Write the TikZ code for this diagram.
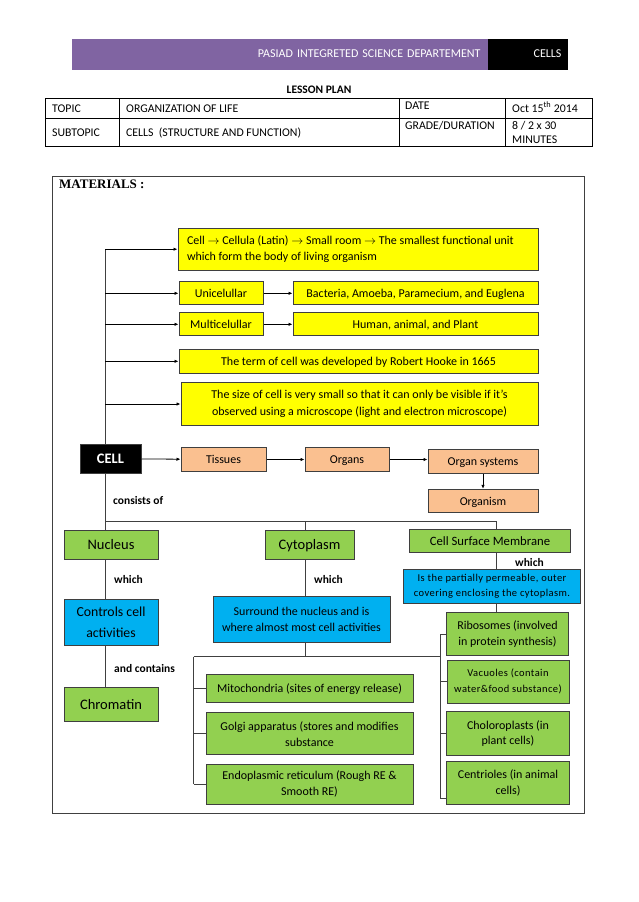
\documentclass[tikz,border=0pt]{standalone}
\usepackage{fontspec}
\setmainfont{Carlito}
\newfontfamily\matfont{Liberation Serif}
\newfontfamily\loosefont[LetterSpace=4]{Carlito}
\usetikzlibrary{arrows.meta}

\definecolor{deptpurple}{HTML}{8064A2}
\definecolor{cellyellow}{HTML}{FFFF00}
\definecolor{cellpeach}{HTML}{FAC090}
\definecolor{cellgreen}{HTML}{92D050}
\definecolor{cellblue}{HTML}{00B0F0}
\definecolor{boxline}{HTML}{3F3F3F}

\begin{document}
\begin{tikzpicture}[x=1pt, y=-1pt,
  box/.style={draw=boxline, line width=1pt, inner sep=0pt, align=center, font=\fontsize{12}{15.7}\selectfont},
  line1/.style={text height=9pt, text depth=1pt},
  line1big/.style={text height=11pt, text depth=1pt},
  ybox/.style={box, fill=cellyellow},
  pbox/.style={box, fill=cellpeach},
  gbox/.style={box, fill=cellgreen},
  bbox/.style={box, fill=cellblue},
  bigtext/.style={font=\fontsize{14.5}{21.7}\selectfont},
  loosetext/.style={font=\loosefont\fontsize{10.5}{15.7}\selectfont},
  link/.style={line width=0.8pt, -{Latex[length=4pt,width=3.5pt]}},
  wire/.style={line width=0.8pt, draw=black!75},
  word/.style={anchor=west, inner sep=0pt, font=\fontsize{11.5}{14}\selectfont\bfseries},
  celltext/.style={anchor=base west, inner sep=0pt, font=\fontsize{11.8}{13}\selectfont}]

  \useasboundingbox (0,0) rectangle (638,902);
  \fill[white] (0,0) rectangle (638,902);

  % header
  \node[fill=deptpurple, minimum width=416pt, minimum height=31pt, text width=402pt, inner xsep=7pt,
    align=right, text=white, font=\fontsize{12}{14}\selectfont] (dept) at (279.5,54) {PASIAD INTEGRETED SCIENCE DEPARTEMENT};
  \node[fill=black, minimum width=80pt, minimum height=31pt, text width=68pt, inner xsep=6pt,
    align=right, text=white, font=\fontsize{12}{14}\selectfont] (unit) at (527.5,54) {CELLS};

  \node[font=\fontsize{11.5}{13}\selectfont\bfseries] (plan) at (319,90) {LESSON PLAN};
  \draw[line width=0.8pt] (45,98.5) rectangle (592.7,146.7);
  \draw[line width=0.8pt] (45,118.3) -- (592.7,118.3);
  \draw[line width=0.8pt] (119.3,98.5) -- (119.3,146.7) (399,98.5) -- (399,146.7) (505.7,98.5) -- (505.7,146.7);
  \node[celltext] (topic) at (52,112.3) {TOPIC};
  \node[celltext] (topicv) at (126,112.3) {ORGANIZATION OF LIFE};
  \node[celltext] (date) at (405,109.5) {DATE};
  \node[celltext] (datev) at (512,112.3) {Oct 15\textsuperscript{th} 2014};
  \node[celltext] (sub) at (52,136) {SUBTOPIC};
  \node[celltext] (subv) at (126,136) {CELLS\ \ (STRUCTURE AND FUNCTION)};
  \node[celltext] (grade) at (405,129) {GRADE/DURATION};
  \node[celltext] (gradev) at (512,129) {8 / 2 x 30};
  \node[celltext] (gradem) at (512,143.3) {MINUTES};

  % materials frame
  \draw[line width=0.9pt, draw=black!75] (52.3,176) rectangle (584.5,813.5);
  \node[anchor=base west, inner sep=0pt, font=\matfont\bfseries\fontsize{13}{14}\selectfont] (mat) at (59,188) {MATERIALS :};

  \node[ybox, minimum width=360pt, minimum height=41.7pt, text width=342pt, align=flush left, font=\fontsize{12}{16.6}\selectfont] (def) at (358,249.2)
    {Cell $\rightarrow$ Cellula (Latin) $\rightarrow$ Small room $\rightarrow$ The smallest functional unit\\which form the body of living organism};
  \node[ybox, line1, minimum width=84pt, minimum height=23.3pt] (uni) at (221,293.3) {Unicelullar};
  \node[ybox, line1, minimum width=245pt, minimum height=23.3pt] (bact) at (415.5,293.3) {Bacteria, Amoeba, Paramecium, and Euglena};
  \node[ybox, line1, minimum width=84pt, minimum height=23.3pt] (multi) at (221,324.3) {Multicelullar};
  \node[ybox, line1, minimum width=245pt, minimum height=23.3pt] (human) at (415.5,324.3) {Human, animal, and Plant};
  \node[ybox, line1, minimum width=359pt, minimum height=24pt] (hooke) at (358.5,361.3) {The term of cell was developed by Robert Hooke in 1665};
  \node[ybox, minimum width=357pt, minimum height=43.4pt, font=\fontsize{12}{16.6}\selectfont] (size) at (359.5,404)
    {The size of cell is very small so that it can only be visible if it’s\\observed using a microscope (light and electron microscope)};

  \node[box, line1big, fill=black, text=white, minimum width=61pt, minimum height=29.3pt, font=\fontsize{14.5}{16}\selectfont\bfseries] (cell) at (110.5,458.7) {CELL};
  \node[pbox, line1, minimum width=85pt, minimum height=24.4pt] (tissues) at (223.5,459.5) {Tissues};
  \node[pbox, line1, minimum width=84pt, minimum height=24.4pt] (organs) at (347,459.5) {Organs};
  \node[pbox, line1, minimum width=110pt, minimum height=24.3pt] (orgsys) at (483,461.2) {Organ systems};
  \node[pbox, line1, minimum width=110pt, minimum height=23.4pt] (organism) at (483,501) {Organism};

  \coordinate (spine) at (105,249.2);
  \draw[wire] (spine) -- (spine |- cell.north);
  \foreach \b in {def,uni,multi,hooke,size}
    \draw[link] (spine |- \b.west) -- (\b.west);
  \draw[link] (uni) -- (bact);
  \draw[link] (multi) -- (human);
  \draw[link] (cell) -- (tissues);
  \draw[link] (tissues) -- (organs);
  \draw[link] (organs.east) -- (orgsys.west |- organs.east);
  \draw[link] (orgsys) -- (organism);

  \node[word] (consists) at (113,500.7) {consists of};

  \node[gbox, line1big, bigtext, minimum width=94pt, minimum height=29.3pt] (nucleus) at (111,544.7) {Nucleus};
  \node[gbox, line1big, bigtext, minimum width=89pt, minimum height=29.3pt] (cyto) at (309.5,544.7) {Cytoplasm};
  \node[gbox, line1, minimum width=161.4pt, minimum height=22.7pt, font=\fontsize{12.7}{15}\selectfont] (csm) at (490,541.3) {Cell Surface Membrane};

  \coordinate (busL) at (105,521);
  \coordinate (busC) at (305.4,521);
  \coordinate (busR) at (496.7,521);
  \draw[wire] (cell.south -| spine) -- (spine |- nucleus.north);
  \draw[wire] (busL) -- (busR) -- (busR |- csm.north);
  \draw[wire] (busC) -- (busC |- cyto.north);

  \node[word] (which1) at (114,580) {which};
  \node[word] (which2) at (314,580) {which};
  \node[word] (which3) at (515,562.7) {which};

  \node[bbox, minimum width=94pt, minimum height=45.7pt, font=\fontsize{13.8}{21.7}\selectfont] (ctrl) at (111,622.2) {Controls cell\\activities};
  \node[word] (contains) at (114,668.3) {and contains};
  \node[gbox, line1big, bigtext, minimum width=94pt, minimum height=34.4pt] (chroma) at (111,704.5) {Chromatin};
  \draw[wire] (nucleus.south -| spine) -- (spine |- ctrl.north);
  \draw[wire] (ctrl.south -| spine) -- (spine |- chroma.north);

  \node[bbox, minimum width=177pt, minimum height=46pt] (cytoblue) at (301.5,619.7) {Surround the nucleus and is\\where almost most cell activities};
  \draw[wire] (cyto.south -| busC) -- (busC |- cytoblue.north);

  \node[bbox, loosetext, minimum width=177.4pt, minimum height=34.3pt] (csmblue) at (492,586.2) {Is the partially permeable, outer\\covering enclosing the cytoplasm.};
  \draw[wire] (csm.south -| busR) -- (busR |- csmblue.north);

  \node[gbox, line1, minimum width=207pt, minimum height=27.7pt] (mito) at (309.5,688.8) {Mitochondria (sites of energy release)};
  \node[gbox, minimum width=207pt, minimum height=42.3pt] (golgi) at (309.5,733.8) {Golgi apparatus (stores and modifies\\substance};
  \node[gbox, minimum width=207pt, minimum height=40pt] (er) at (309.5,784) {Endoplasmic reticulum (Rough RE \&\\Smooth RE)};

  \node[gbox, minimum width=121.6pt, minimum height=43.3pt] (ribo) at (507.5,634.3) {Ribosomes (involved\\in protein synthesis)};
  \node[gbox, loosetext, minimum width=122pt, minimum height=43.3pt] (vac) at (508,681.7) {Vacuoles (contain\\water\&food substance)};
  \node[gbox, minimum width=122.3pt, minimum height=43.6pt] (chloro) at (508,733.5) {Choloroplasts (in\\plant cells)};
  \node[gbox, minimum width=122.3pt, minimum height=43.3pt] (centri) at (508,782.7) {Centrioles (in animal\\cells)};
  \draw[wire] (csmblue.south -| busR) -- (busR |- ribo.north);

  \coordinate (busB) at (305.4,656.7);
  \coordinate (lbr) at (193.6,656.7);
  \coordinate (rbr) at (440,656.7);
  \coordinate (rbrend) at (440,798.3);
  \draw[wire] (cytoblue.south -| busB) -- (busB);
  \draw[wire] (lbr) -- (rbr);
  \draw[wire] (lbr) -- (lbr |- er.west);
  \foreach \b in {mito,golgi,er}
    \draw[wire] (lbr |- \b.west) -- (\b.west);
  \draw[wire] (rbr |- ribo.west) -- (rbrend) -- (rbrend -| centri.west);
  \foreach \b in {ribo,vac,chloro}
    \draw[wire] (rbr |- \b.west) -- (\b.west);
\end{tikzpicture}
\end{document}
